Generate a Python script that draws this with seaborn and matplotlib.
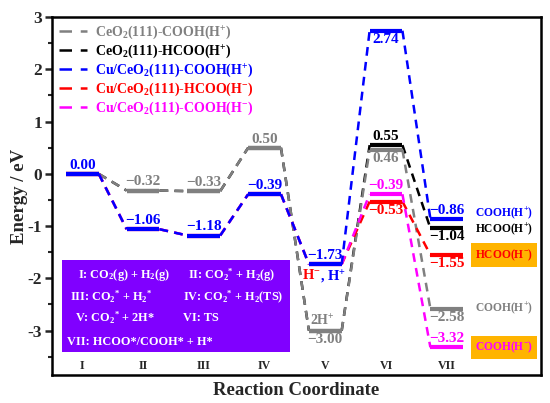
import numpy as np
import pandas as pd
import matplotlib
matplotlib.use("Agg")
import matplotlib.pyplot as plt
import seaborn as sns
from matplotlib.lines import Line2D
from matplotlib.patches import Rectangle
from matplotlib.ticker import MultipleLocator

# ------------------------------------------------------------------
# Datos (eV) para los estados I..VII
# ------------------------------------------------------------------
estados = ["I", "II", "III", "IV", "V", "VI", "VII"]

e_ceo2_cooh_hp = [0.00, -0.32, -0.33, 0.50, -3.00, 0.46, -2.58]
e_ceo2_hcoo_hp = [0.00, -0.32, -0.33, 0.50, -3.00, 0.55, -1.04]
e_cu_cooh_hp = [0.00, -1.06, -1.18, -0.39, -1.73, 2.74, -0.86]
e_cu_hcoo_hm = [0.00, -1.06, -1.18, -0.39, -1.73, -0.53, -1.55]
e_cu_cooh_hm = [0.00, -1.06, -1.18, -0.39, -1.73, -0.39, -3.32]

leyendas = [
    "CeO$_2$(111)-COOH(H$^{+}$)",
    "CeO$_2$(111)-HCOO(H$^{+}$)",
    "Cu/CeO$_2$(111)-COOH(H$^{+}$)",
    "Cu/CeO$_2$(111)-HCOO(H$^{-}$)",
    "Cu/CeO$_2$(111)-COOH(H$^{-}$)",
]
etiquetas_dcha = ["COOH(H$^{+}$)", "HCOO(H$^{+}$)", "COOH(H$^{+}$)", "HCOO(H$^{-}$)", "COOH(H$^{-}$)"]

textos_caja = [
    "I: CO$_2$(g) + H$_2$(g)",
    "II: CO$_2$$^{*}$ + H$_2$(g)",
    "III: CO$_2$$^{*}$ + H$_2$$^{*}$",
    "IV: CO$_2$$^{*}$ + H$_2$(TS)",
    "V: CO$_2$$^{*}$ + 2H*",
    "VI: TS",
    "VII: HCOO*/COOH* + H*",
]

# ------------------------------------------------------------------
# Estilo
# ------------------------------------------------------------------
colores = ["#808080", "#000000", "#0000FF", "#FF0000", "#FF00FF"]
energias = [e_ceo2_cooh_hp, e_ceo2_hcoo_hp, e_cu_cooh_hp, e_cu_hcoo_hm, e_cu_cooh_hm]
# posición de la etiqueta numérica: a = encima, b = debajo, None = sin etiqueta
pos_etiq = [
    [None, "a", "a", "a", "b", "b", "b"],
    [None, None, None, None, None, "a", "b"],
    ["a", "a", "a", "a", "a", "b", "a"],
    [None, None, None, None, None, "b", "b"],
    [None, None, None, None, None, "a", "a"],
]
resaltar = [False, False, False, True, True]
desplaz_dcha = [0, -0.5, 4, 0, 0]
orden_dibujo = [1, 0, 3, 4, 2]

sns.set_theme(style="ticks")
plt.rcParams["font.family"] = ["Liberation Serif", "DejaVu Serif"]
plt.rcParams["font.weight"] = "bold"
plt.rcParams["mathtext.fontset"] = "custom"
plt.rcParams["mathtext.rm"] = "Liberation Serif:bold"
plt.rcParams["mathtext.it"] = "Liberation Serif:italic:bold"
plt.rcParams["mathtext.bf"] = "Liberation Serif:bold"
plt.rcParams["axes.unicode_minus"] = False

fig = plt.figure(figsize=(5.5, 4.03), dpi=100)
ax = fig.add_axes([0.0945, 0.0695, 0.889, 0.888])

hw = 0.27
xs = np.arange(1, len(estados) + 1)

# tablas de segmentos (barras de nivel y conectores)
filas_barras, filas_links = [], []
for k, ener in enumerate(energias):
    for i, e in enumerate(ener):
        filas_barras += [(k, i, xs[i] - hw, e), (k, i, xs[i] + hw, e)]
        if i < len(ener) - 1:
            filas_links += [(k, i, xs[i] + hw, e), (k, i, xs[i + 1] - hw, ener[i + 1])]
df_barras = pd.DataFrame(filas_barras, columns=["serie", "seg", "x", "E"])
df_links = pd.DataFrame(filas_links, columns=["serie", "seg", "x", "E"])

for k in orden_dibujo:
    sns.lineplot(data=df_links[df_links.serie == k], x="x", y="E", units="seg",
                 estimator=None, sort=False, color=colores[k], linewidth=1.8,
                 linestyle=(0, (3.5, 2.5)), ax=ax, zorder=2)
for k in orden_dibujo:
    sns.lineplot(data=df_barras[df_barras.serie == k], x="x", y="E", units="seg",
                 estimator=None, sort=False, color=colores[k], linewidth=3.0,
                 solid_capstyle="butt", ax=ax, zorder=3)

# etiquetas numéricas
for k, ener in enumerate(energias):
    for i, e in enumerate(ener):
        p = pos_etiq[k][i]
        if p is None:
            continue
        dy = 1.5 if p == "a" else -1.5
        ax.annotate(f"{e:.2f}".replace("-", "\u2212"), xy=(xs[i], e), xytext=(0, dy),
                    textcoords="offset points", ha="center",
                    va="bottom" if p == "a" else "top",
                    color=colores[k], fontsize=11, fontweight="bold", zorder=5)

# etiquetas especiales en el estado V
ax.annotate("2H$^{+}$", xy=(xs[4], e_ceo2_cooh_hp[4]), xytext=(-2, 1.5), textcoords="offset points",
            ha="center", va="bottom", color=colores[0], fontsize=10)
ax.annotate("H$^{-}$", xy=(xs[4] - 0.08, e_cu_cooh_hp[4]), xytext=(0, -3), textcoords="offset points",
            ha="right", va="top", color=colores[3], fontsize=10.5)
ax.annotate(", H$^{+}$", xy=(xs[4] - 0.08, e_cu_cooh_hp[4]), xytext=(0, -3), textcoords="offset points",
            ha="left", va="top", color=colores[2], fontsize=10.5)

# etiquetas a la derecha del estado VII
for k, ener in enumerate(energias):
    caja = dict(boxstyle="square,pad=0.35", fc="#FFB400", ec="none") if resaltar[k] else None
    ax.annotate(etiquetas_dcha[k], xy=(xs[-1] + 0.46, ener[-1]), xytext=(0, desplaz_dcha[k]),
                textcoords="offset points", ha="left", va="center",
                color=colores[k], fontsize=8.3, bbox=caja, zorder=5)

# caja morada con la descripción de estados
ax.add_patch(Rectangle((0.0204, 0.064), 0.467, 0.257, transform=ax.transAxes,
                       facecolor="#8000FF", edgecolor="none", zorder=4))
pos_caja = [(78, 275), (188, 275), (70, 297), (183, 297), (75, 318), (183, 318), (67, 342)]
for t, (px, py) in zip(textos_caja, pos_caja):
    ax.text((px - 52) / 489, (375 - py) / 358, t, transform=ax.transAxes,
            ha="left", va="center", color="white", fontsize=8.8, zorder=5)

# leyenda
handles = [Line2D([0], [0], color=c, lw=1.8, linestyle=(0, (5, 3.5))) for c in colores]
ax.legend(handles, leyendas, loc="upper left", frameon=False, fontsize=10,
          labelcolor=colores, handlelength=2.0, labelspacing=0.12,
          borderaxespad=0.2, borderpad=0.3, handletextpad=0.6)

# ejes
ax.set_xlim(0.5, 8.55)
ax.set_ylim(-3.85, 3.0)
ax.set_xticks(xs, estados)
ax.tick_params(axis="x", length=0, pad=-10.5, labelsize=8.6)
ax.yaxis.set_major_locator(MultipleLocator(1))
ax.yaxis.set_minor_locator(MultipleLocator(0.5))
ax.tick_params(axis="y", which="major", direction="out", length=5, width=1.8, labelsize=12.5, pad=2)
ax.tick_params(axis="y", which="minor", direction="out", length=3, width=1.5)
ax.set_xlabel("Reaction Coordinate", fontsize=13.5, fontweight="bold", labelpad=5)
ax.set_ylabel("Energy / eV", fontsize=13.5, fontweight="bold", labelpad=0)
for s in ax.spines.values():
    s.set_linewidth(1.8)
    s.set_color("black")

fig.savefig("out.png", dpi=100)
